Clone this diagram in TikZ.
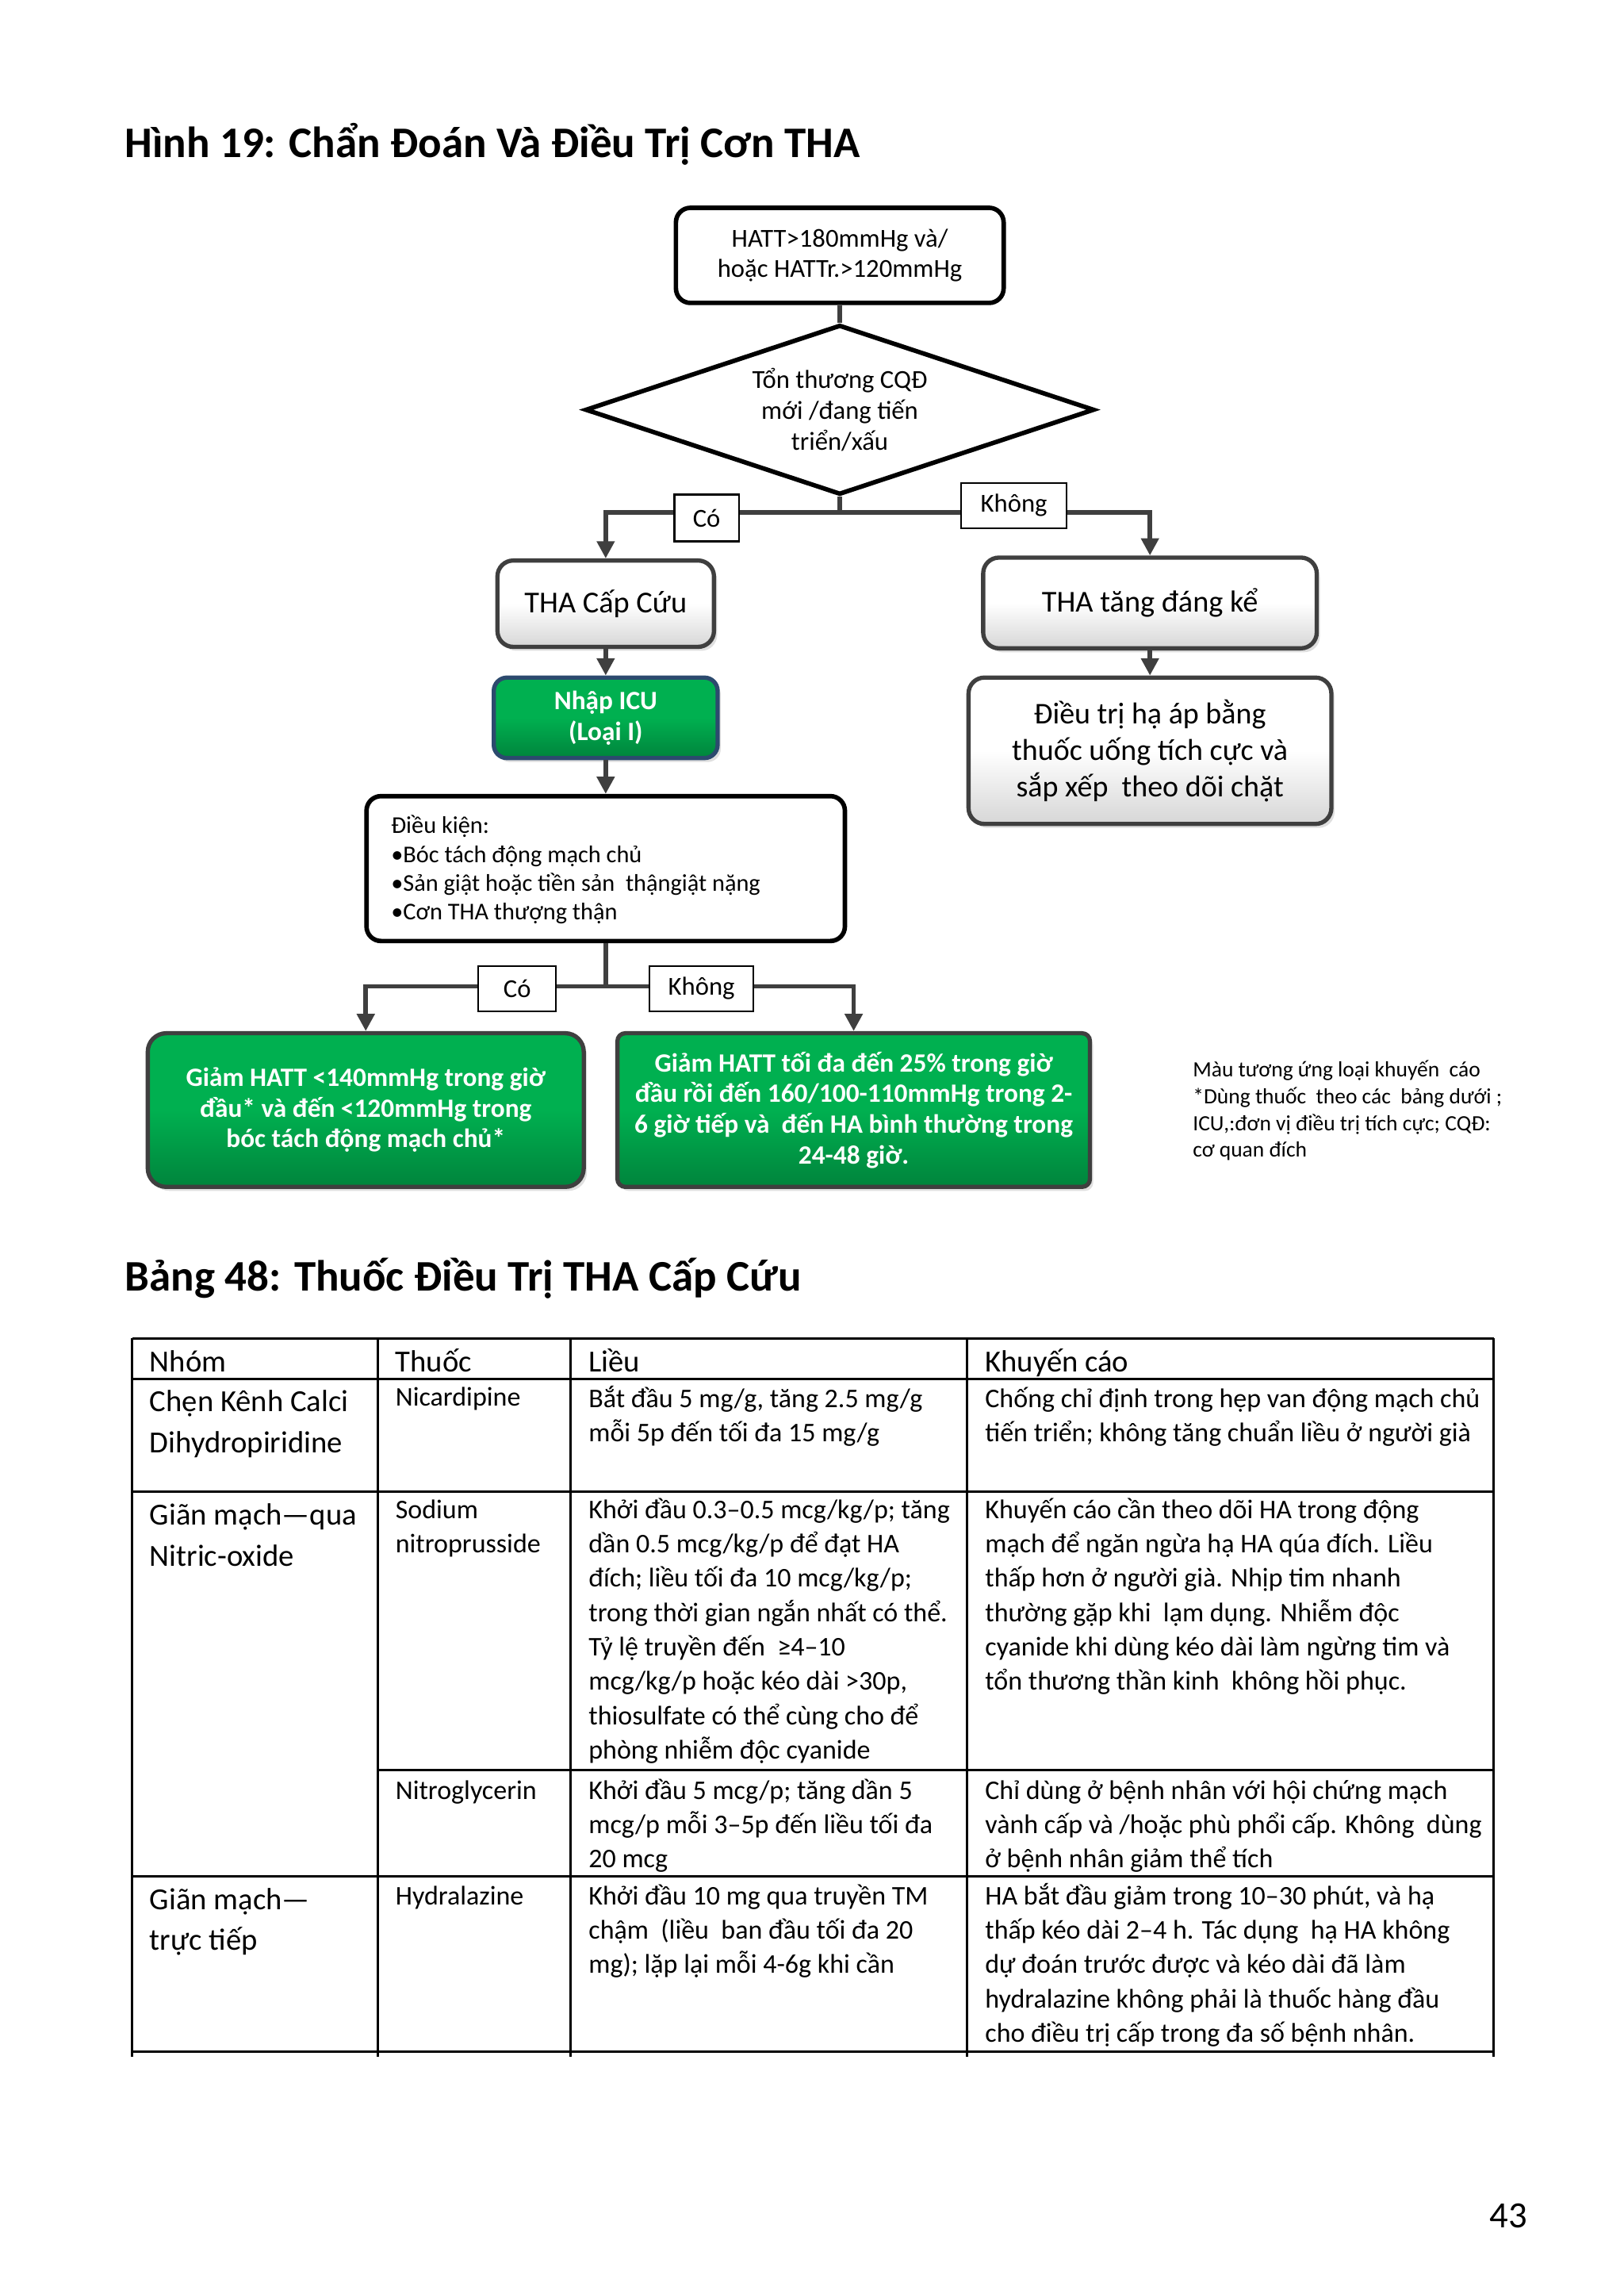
\documentclass[tikz,border=0pt]{standalone}
\usepackage{fontspec}
\setmainfont{Carlito}
\usetikzlibrary{shapes.geometric,arrows.meta,shadows}
\newlength\ux
\setlength\ux{0.55351pt}
\definecolor{grn}{HTML}{00B050}
\definecolor{lnc}{HTML}{3F3F3F}
\definecolor{icub}{HTML}{2C4A6E}
\newcommand\fs{\rule{0pt}{1.05em}}
\newcommand\sz[2]{\fontsize{#1}{#2}\selectfont}
\begin{document}
\begin{tikzpicture}[x=0.55351pt,y=-0.55351pt,
  conn/.style={draw=lnc,line width=1.7pt},
  arr/.style={conn,-{Triangle[width=6.5pt,length=6.5pt]}},
  blk/.style={draw=black,line width=1.7pt,rounded corners=5.5pt,fill=white,inner sep=0pt,align=center},
  shd/.style={drop shadow={opacity=0.25,shadow xshift=1.2pt,shadow yshift=-1.5pt}},
  gbox/.style={shd,draw=lnc,line width=1.6pt,rounded corners=6pt,top color=white,bottom color=black!16,middle color=white,inner sep=0pt,align=center},
  gr/.style={shd,draw=lnc,line width=1.6pt,rounded corners=7pt,top color=grn,bottom color=grn!75!black,middle color=grn,text=white,font=\bfseries\sz{10}{11.6},align=center,inner sep=0pt},
  lab/.style={draw=black,line width=0.7pt,fill=white,inner sep=0pt,font=\sz{9.8}{11.6}},
  fc/.style={font=\sz{9.8}{11.6}},
  cellb/.style={anchor=north west,inner sep=0pt,align=left,font=\sz{10.2}{13.0}},
  cella/.style={anchor=north west,inner sep=0pt,align=left,font=\sz{11.6}{15.4}},
  tline/.style={draw=black,line width=0.9pt}
]
\fill[white] (0,0) rectangle (1110,1564.77);
\useasboundingbox (0,0) rectangle (1110,1564.77);

% titles
\node[anchor=base west,inner sep=0pt,font=\bfseries\sz{16.5}{20}] (t1) at (85,107.5) {Hình 19: Chẩn Đoán Và Điều Trị Cơn THA};
\node[anchor=base west,inner sep=0pt,font=\bfseries\sz{16.5}{20}] (t2) at (85,882) {Bảng 48: Thuốc Điều Trị THA Cấp Cứu};

% flowchart nodes
\node[blk,fc,minimum width=224\ux,minimum height=65\ux] (top) at (574,174.5) {HATT>180mmHg và/\\hoặc HATTr.>120mmHg};
\node[diamond,aspect=3,draw=black,line width=1.7pt,fill=white,inner sep=0pt,align=center,fc,minimum width=348\ux,minimum height=116\ux] (dia) at (574,280) {Tổn thương CQĐ\\mới /đang tiến\\triển/xấu};
\node[gbox,font=\sz{11.5}{13},minimum width=148\ux,minimum height=59\ux] (cc) at (414,412.5) {THA Cấp Cứu};
\node[gbox,font=\sz{11.5}{13},minimum width=228\ux,minimum height=62\ux] (tk) at (786,412) {THA tăng đáng kể};
\node[gbox,font=\sz{11.4}{13.8},minimum width=248\ux,minimum height=100\ux] (dt) at (786,513) {Điều trị hạ áp bằng\\thuốc uống tích cực và\\sắp xếp\ \ theo dõi chặt};
\node[gr,draw=icub,rounded corners=5pt,minimum width=153\ux,minimum height=55\ux] (icu) at (414,490.5) {Nhập ICU\\(Loại I)};
\node[blk,minimum width=327\ux,minimum height=99\ux] (dk) at (414,593.5) {};
\node[anchor=north west,inner sep=0pt,align=left,font=\sz{9.1}{10.9}] (dkt) at (267,552) {\fs Điều kiện:\\•Bóc tách động mạch chủ\\•Sản giật hoặc tiền sản\ \ thậngiật nặng\\•Cơn THA thượng thận};
\node[gr,minimum width=298\ux,minimum height=105\ux] (g1) at (250,758.5) {Giảm HATT <140mmHg trong giờ\\đầu* và đến <120mmHg trong\\bóc tách động mạch chủ*};
\node[gr,rounded corners=3pt,minimum width=323\ux,minimum height=105\ux] (g2) at (583.5,758.5) {Giảm HATT tối đa đến 25\% trong giờ\\đầu rồi đến 160/100-110mmHg trong 2-\\6 giờ tiếp và\ \ đến HA bình thường trong\\24-48 giờ.};

% connectors
\coordinate (j1) at (574,350);
\coordinate (j2) at (414,674);
\draw[conn] (top.south) -- (dia.north);
\draw[conn] (dia.south) -- (j1);
\draw[arr] (j1) -| (cc.north);
\draw[arr] (j1) -| (tk.north);
\draw[arr] (cc.south) -- (icu.north);
\draw[arr] (icu.south) -- (dk.north);
\draw[arr] (tk.south) -- (dt.north);
\draw[conn] (dk.south) -- (j2);
\draw[arr] (j2) -| (g1.north);
\draw[arr] (j2) -| (g2.north);

% labels
\node[lab,minimum width=44\ux,minimum height=32\ux] (l1) at (483,354) {Có};
\node[lab,minimum width=72\ux,minimum height=31\ux] (l2) at (693,345.5) {Không};
\node[lab,minimum width=53\ux,minimum height=31\ux] (l3) at (353.5,675.5) {Có};
\node[lab,minimum width=71\ux,minimum height=31\ux] (l4) at (479.5,675.5) {Không};

% note
\node[anchor=north west,inner sep=0pt,align=left,font=\sz{8.25}{10.1}] (note) at (815,720) {\fs Màu tương ứng loại khuyến\ \ cáo\\*Dùng thuốc\ \ theo các\ \ bảng dưới ;\\ICU,:đơn vị điều trị tích cực; CQĐ:\\cơ quan đích};

% table grid
\foreach \xx in {90.4,258,390,661,1021} \draw[tline] (\xx,914.5) -- (\xx,1405.5);
\foreach \yy in {914.5,942,1019,1282,1402} \draw[tline] (90.4,\yy) -- (1021,\yy);
\draw[tline] (258,1209.6) -- (1021,1209.6);

% header
\node[cella,font=\sz{11.6}{15}] (h1) at (102,915) {\fs Nhóm};
\node[cella,font=\sz{11.6}{15}] (h2) at (270,915) {\fs Thuốc};
\node[cella,font=\sz{11.6}{15}] (h3) at (402,915) {\fs Liều};
\node[cella,font=\sz{11.6}{15}] (h4) at (673,915) {\fs Khuyến cáo};

% row 1
\node[cella] (r1a) at (102,942.3) {\fs Chẹn Kênh Calci\\Dihydropiridine};
\node[cellb] (r1b) at (270,941) {\fs Nicardipine};
\node[cellb] (r1c) at (402,942) {\fs Bắt đầu 5 mg/g, tăng 2.5 mg/g\\mỗi 5p đến tối đa 15 mg/g};
\node[cellb] (r1d) at (673,942) {\fs Chống chỉ định trong hẹp van động mạch chủ\\tiến triển; không tăng chuẩn liều ở người già};

% row 2
\node[cella] (r2a) at (102,1019.8) {\fs Giãn mạch—qua\\Nitric-oxide};
\node[cellb] (r2b) at (270,1017.7) {\fs Sodium\\nitroprusside};
\node[cellb] (r2c) at (402,1017.7) {\fs Khởi đầu 0.3–0.5 mcg/kg/p; tăng\\dần 0.5 mcg/kg/p để đạt HA\\đích; liều tối đa 10 mcg/kg/p;\\trong thời gian ngắn nhất có thể.\\Tỷ lệ truyền đến\ \ ≥4–10\\mcg/kg/p hoặc kéo dài >30p,\\thiosulfate có thể cùng cho để\\phòng nhiễm độc cyanide};
\node[cellb] (r2d) at (673,1017.7) {\fs Khuyến cáo cần theo dõi HA trong động\\mạch để ngăn ngừa hạ HA qúa đích. Liều\\thấp hơn ở người già. Nhịp tim nhanh\\thường gặp khi\ \ lạm dụng. Nhiễm độc\\cyanide khi dùng kéo dài làm ngừng tim và\\tổn thương thần kinh\ \ không hồi phục.};

% row 3
\node[cellb] (r3b) at (270,1209.7) {\fs Nitroglycerin};
\node[cellb] (r3c) at (402,1209.7) {\fs Khởi đầu 5 mcg/p; tăng dần 5\\mcg/p mỗi 3–5p đến liều tối đa\\20 mcg};
\node[cellb] (r3d) at (673,1209.7) {\fs Chỉ dùng ở bệnh nhân với hội chứng mạch\\vành cấp và /hoặc phù phổi cấp. Không\ \ dùng\\ở bệnh nhân giảm thể tích};

% row 4
\node[cella] (r4a) at (102,1282.3) {\fs Giãn mạch—\\trực tiếp};
\node[cellb] (r4b) at (270,1281.7) {\fs Hydralazine};
\node[cellb] (r4c) at (402,1281.7) {\fs Khởi đầu 10 mg qua truyền TM\\chậm\ \ (liều\ \ ban đầu tối đa 20\\mg); lặp lại mỗi 4-6g khi cần};
\node[cellb] (r4d) at (673,1281.7) {\fs HA bắt đầu giảm trong 10–30 phút, và hạ\\thấp kéo dài 2–4 h. Tác dụng\ \ hạ HA không\\dự đoán trước được và kéo dài đã làm\\hydralazine không phải là thuốc hàng đầu\\cho điều trị cấp trong đa số bệnh nhân.};

% page number
\node[inner sep=0pt,font=\sz{14}{16}] (pg) at (1031,1514) {43};
\end{tikzpicture}
\end{document}
